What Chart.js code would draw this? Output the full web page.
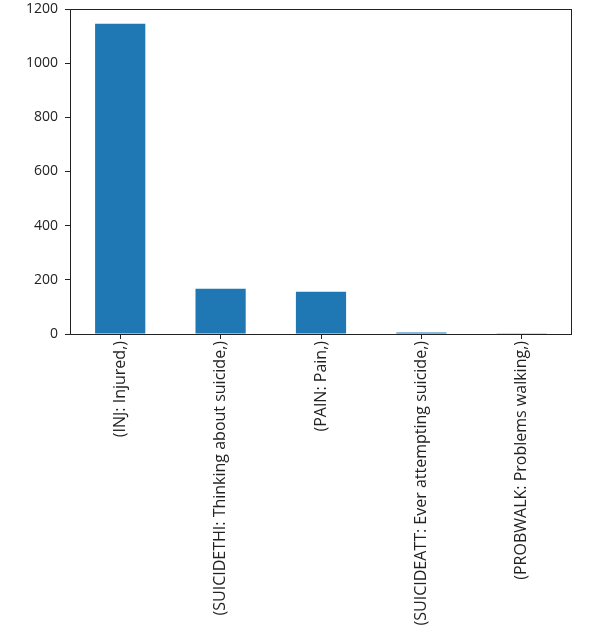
<!DOCTYPE html>
<html>
<head>
<meta charset="utf-8">
<script src="https://cdn.jsdelivr.net/npm/chart.js@4"></script>
<style>
  html, body { margin: 0; padding: 0; background: #fff; }
  #wrap { width: 608px; height: 639px; }
</style>
</head>
<body>
<div id="wrap"><canvas id="barChart"></canvas></div>
<script>
const categories = [
    '(INJ: Injured,)',
    '(SUICIDETHI: Thinking about suicide,)',
    '(PAIN: Pain,)',
    '(SUICIDEATT: Ever attempting suicide,)',
    '(PROBWALK: Problems walking,)'
];
const counts = [1146, 167, 156, 6, 1];
const yTicks = [0, 200, 400, 600, 800, 1000, 1200];

// draw the full box round the plot like matplotlib
const frame = {
    id: 'frame',
    afterDraw(chart) {
        const { ctx, chartArea: a } = chart;
        ctx.save();
        ctx.strokeStyle = '#222';
        ctx.lineWidth = 1;
        ctx.strokeRect(a.left + 0.5, a.top + 0.5, a.right - a.left - 1, a.bottom - a.top);
        ctx.restore();
    }
};

new Chart(document.getElementById('barChart'), {
    type: 'bar',
    data: {
        labels: categories,
        datasets: [{
            data: counts,
            backgroundColor: '#1f77b4',
            categoryPercentage: 0.5,
            barPercentage: 1.0
        }]
    },
    options: {
        responsive: true,
        maintainAspectRatio: false,
        animation: false,
        layout: { padding: { top: 9, right: 36, left: 0, bottom: 0 } },
        plugins: {
            legend: { display: false },
            tooltip: { enabled: false }
        },
        scales: {
            x: {
                grid: { display: true, offset: false, drawOnChartArea: false, drawTicks: true, tickLength: 5, tickColor: '#222', color: '#222' },
                border: { display: false },
                ticks: {
                    minRotation: 90,
                    maxRotation: 90,
                    autoSkip: false,
                    padding: 2,
                    color: '#222',
                    font: { family: 'Open Sans', size: 16 }
                },
                afterFit: (scale) => {
                    scale.height = 305;
                    scale.paddingLeft = 0;
                    scale.paddingRight = 0;
                }
            },
            y: {
                min: 0,
                max: 1200,
                afterBuildTicks: (scale) => { scale.ticks = yTicks.map(v => ({ value: v })); },
                grid: { display: true, drawOnChartArea: false, drawTicks: true, tickLength: 5, color: '#222' },
                border: { display: false },
                ticks: {
                    padding: 7,
                    color: '#222',
                    font: { family: 'Open Sans', size: 14 },
                    callback: (v) => String(v)
                },
                afterFit: (scale) => {
                    scale.width = 70;
                    scale.paddingTop = 0;
                    scale.paddingBottom = 0;
                }
            }
        }
    },
    plugins: [frame]
});
</script>
</body>
</html>
